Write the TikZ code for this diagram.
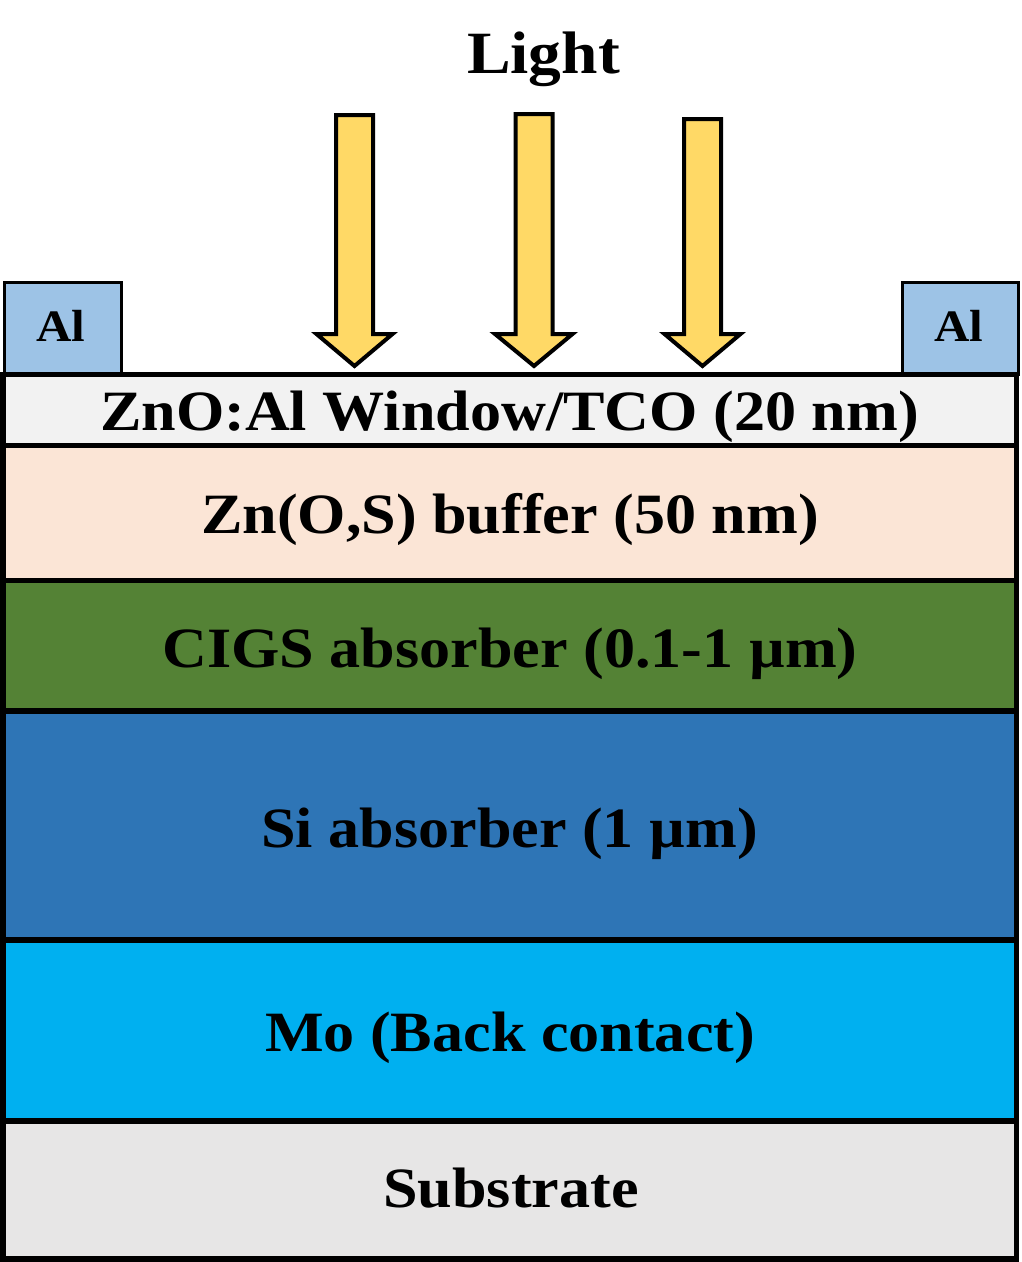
\documentclass[tikz,border=0pt]{standalone}
\usepackage{fontspec}
\setmainfont{Liberation Serif}[FakeStretch=1.09]
\definecolor{alblue}{HTML}{9DC3E6}
\definecolor{znocol}{HTML}{F2F2F2}
\definecolor{bufcol}{HTML}{FBE5D6}
\definecolor{cigscol}{HTML}{548235}
\definecolor{sicol}{HTML}{2E75B6}
\definecolor{mocol}{HTML}{00B0F0}
\definecolor{subcol}{HTML}{E7E6E6}
\definecolor{lightcol}{HTML}{FFD966}
\begin{document}
\begin{tikzpicture}[x=1pt,y=-1pt,
  layerbox/.style={draw=black, line width=5.5pt, minimum width=1013.5pt, inner sep=0pt, outer sep=0pt},
  albox/.style={draw=black, line width=3pt, fill=alblue, inner sep=0pt, outer sep=0pt, minimum height=91.5pt},
  layertext/.style={anchor=base, inner sep=0pt, font=\bfseries\fontsize{57}{60}\selectfont},
  altext/.style={anchor=base, inner sep=0pt, font=\bfseries\fontsize{45}{48}\selectfont},
  lighttext/.style={anchor=base, inner sep=0pt, font=\bfseries\fontsize{60}{64}\selectfont},
  beam/.style={draw=black, line width=4pt, fill=lightcol, line join=miter}
]
\useasboundingbox (0,0) rectangle (1021,1262);

% Al contacts
\node[albox, minimum width=117pt] (alL) at (63,328.25) {};
\node[albox, minimum width=116.3pt] (alR) at (960.35,328.25) {};
\node[altext] (alLt) at (61,341) {Al};
\node[altext] (alRt) at (959,341) {Al};

% Layers
\node[layerbox, fill=znocol,  minimum height=71pt]    (zno)  at (509.75,410) {};
\node[layerbox, fill=bufcol,  minimum height=135pt]   (buf)  at (509.75,513) {};
\node[layerbox, fill=cigscol, minimum height=130.5pt] (cigs) at (509.75,645.75) {};
\node[layerbox, fill=sicol,   minimum height=229pt]   (si)   at (509.75,825.5) {};
\node[layerbox, fill=mocol,   minimum height=181pt]   (mo)   at (509.75,1030.5) {};
\node[layerbox, fill=subcol,  minimum height=138pt]   (sub)  at (509.75,1190) {};

% Layer labels
\node[layertext] (znot)  at (509.5,430)  {ZnO:Al Window/TCO (20 nm)};
\node[layertext] (buft)  at (510,533)    {Zn(O,S) buffer (50 nm)};
\node[layertext] (cigst) at (510,667)    {CIGS absorber (0.1-1 µm)};
\node[layertext] (sit)   at (509.5,847)  {Si absorber (1 µm)};
\node[layertext] (mot)   at (510,1051)   {Mo (Back contact)};
\node[layertext] (subt)  at (511,1207)   {Substrate};

% Light
\node[lighttext] (light) at (543.5,73) {Light};

% Light arrows
\draw[beam] (336,115) -- (373,115) -- (373,334) -- (392.5,334) -- (354.5,366) -- (316.5,334) -- (336,334) -- cycle;
\draw[beam] (515.5,114) -- (552.5,114) -- (552.5,334) -- (572.5,334) -- (534,366) -- (495,334) -- (515.5,334) -- cycle;
\draw[beam] (684,119) -- (721,119) -- (721,334) -- (740.5,334) -- (702.5,366) -- (664.5,334) -- (684,334) -- cycle;
\end{tikzpicture}
\end{document}
